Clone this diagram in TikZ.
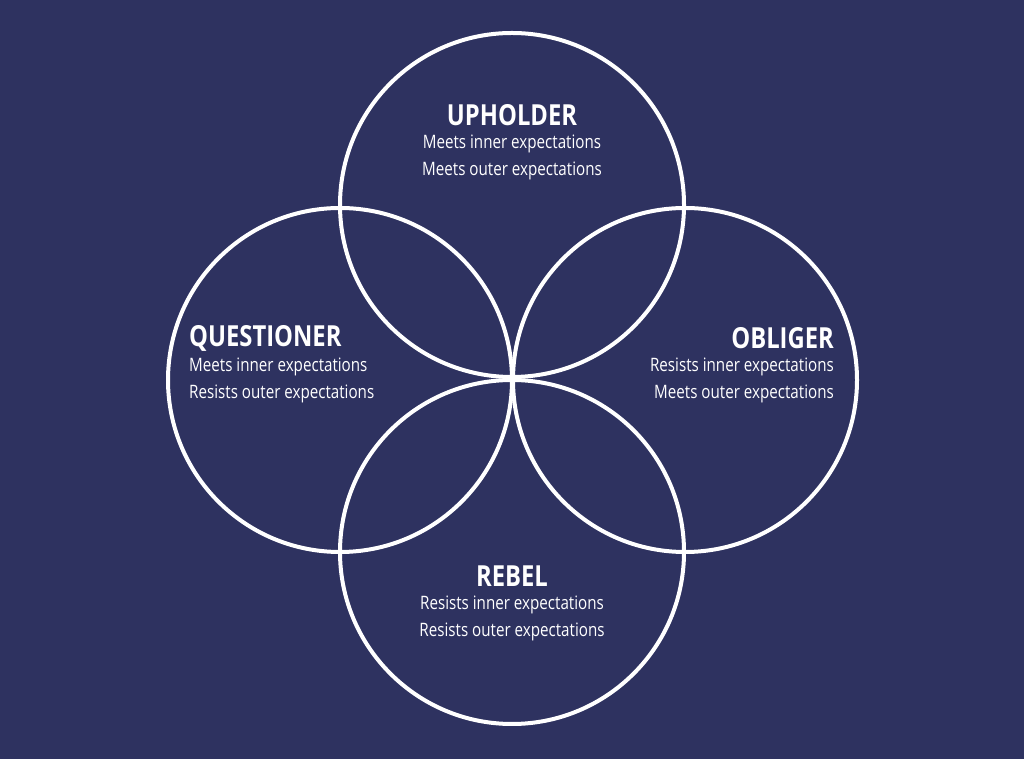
\documentclass[tikz,border=0pt]{standalone}
\usepackage{fontspec}
\setmainfont[FakeStretch=0.82]{Open Sans}
\definecolor{bg}{HTML}{2E3260}
\begin{document}
\begin{tikzpicture}[x=1pt,y=1pt,
  ring/.style={draw=white,line width=4pt},
  ttl/.style={text=white,font=\fontsize{29}{32}\selectfont\bfseries,inner sep=0pt},
  sub/.style={text=white,font=\fontsize{18.5}{27}\selectfont,inner sep=0pt,align=#1}]
\fill[bg] (0,0) rectangle (1024,759);
\useasboundingbox (0,0) rectangle (1024,759);
\draw[ring] (512,554) circle (172);
\draw[ring] (340,379) circle (172);
\draw[ring] (685,379) circle (172);
\draw[ring] (512,207) circle (172);
\node[ttl] (u) at (512,644) {UPHOLDER};
\node[sub=center,anchor=north] (ut) at (512,624) {Meets inner expectations\\Meets outer expectations};
\node[ttl,anchor=west] (q) at (189,421) {QUESTIONER};
\node[sub=left,anchor=north west] (qt) at (189,401) {Meets inner expectations\\Resists outer expectations};
\node[ttl,anchor=east] (o) at (834,421) {OBLIGER};
\node[sub=right,anchor=north east] (ot) at (834,401) {Resists inner expectations\\Meets outer expectations};
\node[ttl] (r) at (512,183) {REBEL};
\node[sub=center,anchor=north] (rt) at (512,163) {Resists inner expectations\\Resists outer expectations};
\end{tikzpicture}
\end{document}
